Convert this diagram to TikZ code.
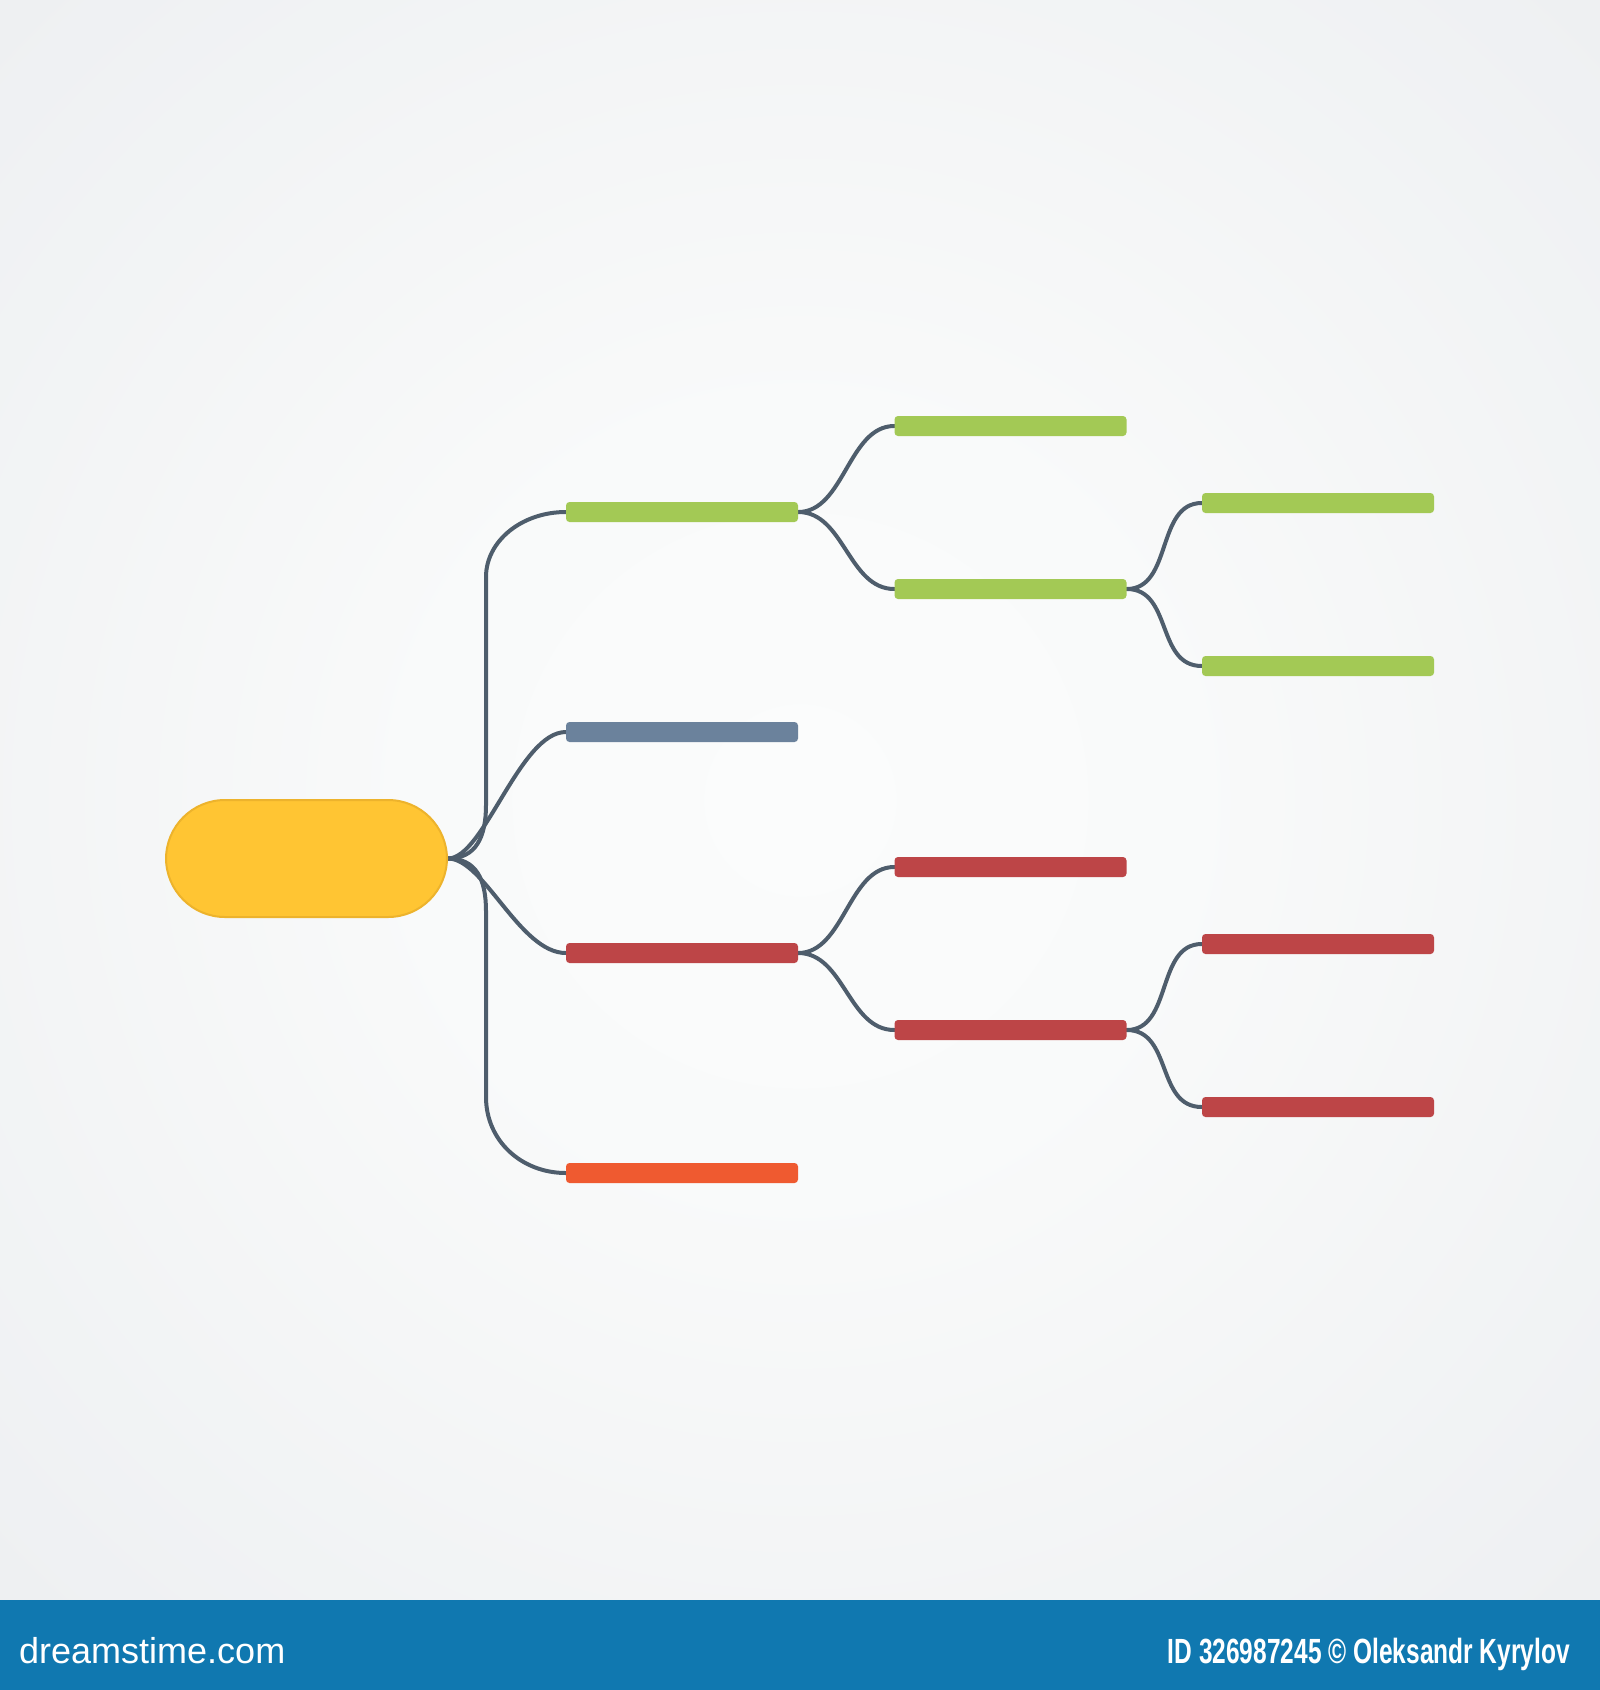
\documentclass[tikz,border=0pt]{standalone}
\usepackage{fontspec}
\setmainfont{Liberation Sans}
\definecolor{bgin}{HTML}{FBFCFC}
\definecolor{bgin2}{HTML}{F9FAFA}
\definecolor{bgmid}{HTML}{EEF0F2}
\definecolor{bgedge}{HTML}{E7E9EC}
\definecolor{bgout}{HTML}{E0E3E6}
\definecolor{bannerc}{HTML}{1078B0}
\definecolor{connc}{HTML}{4E5D6C}
\definecolor{greenc}{HTML}{A3C955}
\definecolor{bluec}{HTML}{6B829C}
\definecolor{redc}{HTML}{BD4547}
\definecolor{orangec}{HTML}{EF5A30}
\definecolor{yellowc}{HTML}{FFC533}
\definecolor{yellowd}{HTML}{EDB32C}
\pgfdeclareradialshading{bgshade}{\pgfpoint{0bp}{0bp}}{color(0bp)=(bgin); color(12bp)=(bgin2); color(35bp)=(bgmid); color(50bp)=(bgedge); color(71bp)=(bgout)}
\pgfdeclarelayer{back}
\pgfdeclarelayer{mid}
\pgfsetlayers{back,mid,main}
\begin{document}
\begin{tikzpicture}[x=1pt,y=-1pt,
  conn/.style={draw=connc, line width=4pt, line cap=round},
  bar/.style={rectangle, rounded corners=3.5pt, minimum width=232pt, minimum height=20pt, inner sep=0pt},
  gbar/.style={bar, fill=greenc},
  rbar/.style={bar, fill=redc},
  rootnode/.style={rectangle, rounded corners=59pt, minimum width=281pt, minimum height=117pt, inner sep=0pt, fill=yellowc, draw=yellowd, line width=2pt},
  ]
\begin{pgfonlayer}{back}
\useasboundingbox (0,0) rectangle (1600,1690);
\shade[shading=bgshade] (0,0) rectangle (1600,1600);
\fill[bannerc] (0,1600) rectangle (1600,1690);
\end{pgfonlayer}

\node[rootnode] (root) at (306.5,858.5) {};

\node[gbar] (g1) at (682,512) {};
\node[bar, fill=bluec] (b1) at (682,732) {};
\node[rbar] (r1) at (682,953) {};
\node[bar, fill=orangec] (o1) at (682,1173) {};

\node[gbar] (g2a) at (1010.5,426) {};
\node[gbar] (g2b) at (1010.5,589) {};
\node[rbar] (r2a) at (1010.5,867) {};
\node[rbar] (r2b) at (1010.5,1030) {};

\node[gbar] (g3a) at (1318,503) {};
\node[gbar] (g3b) at (1318,666) {};
\node[rbar] (r3a) at (1318,944) {};
\node[rbar] (r3b) at (1318,1107) {};

\coordinate (vt1) at (486,805);
\coordinate (vt2) at (486,577);
\coordinate (vb1) at (486,911);
\coordinate (vb2) at (486,1097);

\begin{pgfonlayer}{mid}
\draw[conn] (root.east) .. controls +(28,0) and +(0,32) .. (vt1) -- (vt2) .. controls +(0,-36) and +(-44,0) .. (g1.west);
\draw[conn] (root.east) .. controls +(28,0) and +(0,-32) .. (vb1) -- (vb2) .. controls +(0,44) and +(-44,0) .. (o1.west);
\draw[conn] (root.east) .. controls +(36,0) and +(-46,0) .. (b1.west);
\draw[conn] (root.east) .. controls +(36,0) and +(-46,0) .. (r1.west);

\foreach \a/\b in {g1/g2a, g1/g2b, g2b/g3a, g2b/g3b, r1/r2a, r1/r2b, r2b/r3a, r2b/r3b}
  \draw[conn] (\a.east) .. controls +(46,0) and +(-46,0) .. (\b.west);
\end{pgfonlayer}

\node[anchor=base west, text=white, font=\fontsize{36}{40}\selectfont, inner sep=0pt] (logo) at (19,1663) {dreamstime.com};
\node[anchor=base east, text=white, font=\fontsize{35}{40}\selectfont\bfseries, inner sep=0pt, xscale=0.70] (credit) at (1570,1663) {ID 326987245 © Oleksandr Kyrylov};
\end{tikzpicture}
\end{document}
